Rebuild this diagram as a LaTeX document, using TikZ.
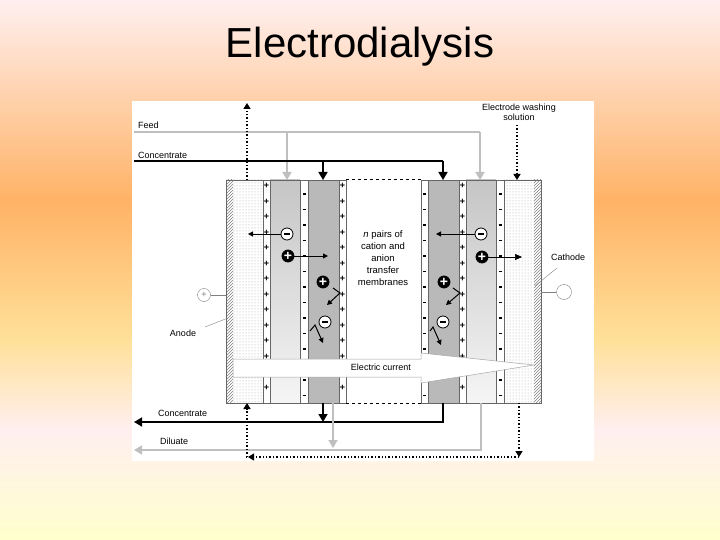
\documentclass[tikz,border=0pt]{standalone}
\usepackage{fontspec}
\setmainfont{Liberation Sans}
\usetikzlibrary{patterns,arrows.meta}
\newcommand{\mybar}[2]{\rule[-0.5pt]{#1}{#2}}
\begin{document}
\begin{tikzpicture}[x=1pt,y=-1pt,
  lbl/.style={font=\fontsize{9}{10}\selectfont,inner sep=0pt},
  blk/.style={black,line width=1.6pt,-{Triangle[length=8pt,width=9pt]}},
  gry/.style={gray!50,line width=1.6pt,-{Triangle[length=8pt,width=9pt]}},
  dot/.style={black,line width=1.4pt,dotted,-{Triangle[length=6pt,width=7pt]}},
  ion/.style={circle,draw=black,line width=0.8pt,minimum size=12pt,inner sep=0pt,font=\bfseries\fontsize{14}{14}\selectfont},
  ar/.style={-{Triangle[length=5pt,width=5pt]},line width=1pt},
  sign/.style={font=\bfseries\fontsize{9}{9}\selectfont,inner sep=0pt}]
\useasboundingbox (0,0) rectangle (720,540);
\shade[top color=pink!25,bottom color=orange!60] (0,0) rectangle (720,200);
\shade[top color=orange!60,bottom color=yellow!40!orange!40] (0,200) rectangle (720,340);
\shade[top color=yellow!40!orange!40,bottom color=pink!25] (0,340) rectangle (720,430);
\shade[top color=pink!25,bottom color=yellow!20] (0,430) rectangle (720,540);
\node[font=\fontsize{42}{44}\selectfont] (title) at (360,47) {Electrodialysis};
\fill[white] (132,101) rectangle (594,461);
\begin{scope}
\clip (132,101) rectangle (594,461);
\fill[pattern=north east lines,pattern color=gray] (226,180) rectangle (233,403);
\fill[pattern=north east lines,pattern color=gray] (534,180) rectangle (541,403);
\fill[pattern=dots,pattern color=gray!70] (233,180) rectangle (263,403);
\fill[pattern=dots,pattern color=gray!70] (504,180) rectangle (534,403);
\shade[top color=gray!45,bottom color=gray!8] (270,180) rectangle (300,403);
\shade[top color=gray!45,bottom color=gray!8] (466,180) rectangle (496,403);
\fill[gray!55] (308,180) rectangle (339,403);
\fill[gray!55] (428,180) rectangle (459,403);
\foreach \a/\b in {263/270,300/308,339/346,421/428,459/466,496/504}
  \draw[gray!80!black,line width=0.5pt,fill=white] (\a,180) rectangle (\b,403);
\draw[gray!80!black,line width=0.6pt] (346,180) -- (226,180) -- (226,403) -- (346,403);
\draw[gray!80!black,line width=0.6pt] (421,180) -- (541,180) -- (541,403) -- (421,403);
\draw[black,line width=1pt,dashed] (346,180) -- (421,180);
\draw[black,line width=1pt,dashed] (346,403) -- (421,403);
\foreach \y in {0,...,13}{
  \foreach \x in {266.5,342.5,462.5} \node[sign] at (\x,{186+\y*15.5}) {+};
  \foreach \x in {304,424.5,500} \node[sign] at (\x,{194+\y*15.5}) {\mybar{3pt}{1.6pt}};
}
\draw[gray!70,fill=white,line width=0.5pt] (233,359) -- (421,359) -- (421,353) -- (534,365) -- (421,383) -- (421,377) -- (233,377) -- cycle;
\node[lbl] (ec) at (381,367) {Electric current};
\draw[gray!50,line width=1.6pt] (134,132) -- (480,132);
\coordinate (f1) at (287,132); \coordinate (f2) at (480,132);
\coordinate (f1e) at (287,180); \coordinate (f2e) at (480,180);
\draw[gry] (f1) -- (f1e); \draw[gry] (f2) -- (f2e);
\draw[black,line width=1.6pt] (134,161) -- (443,161);
\coordinate (c1) at (323,161); \coordinate (c2) at (443,161);
\coordinate (c1e) at (323,180); \coordinate (c2e) at (443,180);
\draw[blk] (c1) -- (c1e); \draw[blk] (c2) -- (c2e);
\coordinate (u0) at (247,180); \coordinate (u1) at (247,103);
\draw[dot] (u0) -- (u1);
\coordinate (w0) at (517,125); \coordinate (w1) at (517,180);
\draw[dot] (w0) -- (w1);
\coordinate (b1) at (443,403); \coordinate (b1c) at (443,422); \coordinate (b1e) at (134,422);
\draw[blk] (b1) -- (b1c) -- (b1e);
\coordinate (b2) at (323,403); \coordinate (b2e) at (323,422);
\draw[blk] (b2) -- (b2e);
\coordinate (d1) at (481,403); \coordinate (d1c) at (481,450); \coordinate (d1e) at (134,450);
\draw[gry] (d1) -- (d1c) -- (d1e);
\coordinate (d2) at (333,403); \coordinate (d2e) at (333,448);
\draw[gry] (d2) -- (d2e);
\coordinate (e0) at (519,403); \coordinate (e1) at (519,457); \coordinate (e2) at (247,457); \coordinate (e3) at (247,403);
\draw[dot] (e0) -- (e1);
\draw[dot] (e1) -- (e2) -- (e3);
\draw[black,-{Triangle[length=6pt,width=7pt]},line width=1pt] (253,457) -- (248,457);
\node[lbl,anchor=west] (feed) at (138,125) {Feed};
\node[lbl,anchor=west] (conc) at (138,155) {Concentrate};
\node[lbl,align=center] (ews) at (519,112) {Electrode washing\\solution};
\node[lbl,anchor=west] (conc2) at (158,413) {Concentrate};
\node[lbl,anchor=west] (dil) at (160,441) {Diluate};
\node[lbl,align=center,font=\fontsize{9.5}{12}\selectfont] (np) at (383,258) {\textit{n} pairs of\\cation and\\anion\\transfer\\membranes};
\node[lbl] (anode) at (183,333) {Anode};
\node[lbl,anchor=west] (cathode) at (551,257) {Cathode};
\draw[gray,line width=0.4pt] (205,327) -- (228,318);
\draw[gray,line width=0.4pt] (535,286) -- (557,268);
\node[circle,draw=gray,minimum size=13pt,inner sep=0pt,font=\fontsize{9}{9}\selectfont,text=gray] (ap) at (204,295) {+};
\draw[gray,line width=0.5pt] (ap) -- (226,295);
\node[circle,draw=gray,minimum size=15pt,inner sep=0pt] (cm) at (564,292) {};
\draw[gray,line width=0.5pt] (cm) -- (541,292);
\node[ion,fill=white] (m1) at (287,234) {\mybar{6pt}{2.4pt}};
\node[ion,fill=black,text=white] (p1) at (288,256) {+};
\node[ion,fill=black,text=white] (p2) at (323,282) {+};
\node[ion,fill=white] (m2) at (325,322) {\mybar{6pt}{2.4pt}};
\node[ion,fill=white] (m3) at (481,234) {\mybar{6pt}{2.4pt}};
\node[ion,fill=black,text=white] (p3) at (482,257) {+};
\node[ion,fill=black,text=white] (p4) at (444,282) {+};
\node[ion,fill=white] (m4) at (443,322) {\mybar{6pt}{2.4pt}};
\coordinate (m1e) at (248,234); \draw[ar] (m1) -- (m1e);
\coordinate (p1e) at (328,256); \draw[ar] (p1) -- (p1e);
\coordinate (m3e) at (436,234); \draw[ar] (m3) -- (m3e);
\coordinate (p3e) at (522,257); \draw[-{Triangle[length=7pt,width=6pt]},line width=0.6pt] (p3) -- (p3e);
\draw[ar] (333,288) -- (340,293) -- (327,305);
\draw[ar] (310,331) -- (315,325) -- (323,343);
\draw[ar] (453,288) -- (460,293) -- (446,305);
\draw[ar] (430,331) -- (433,327) -- (441,345);
\end{scope}
\end{tikzpicture}
\end{document}
